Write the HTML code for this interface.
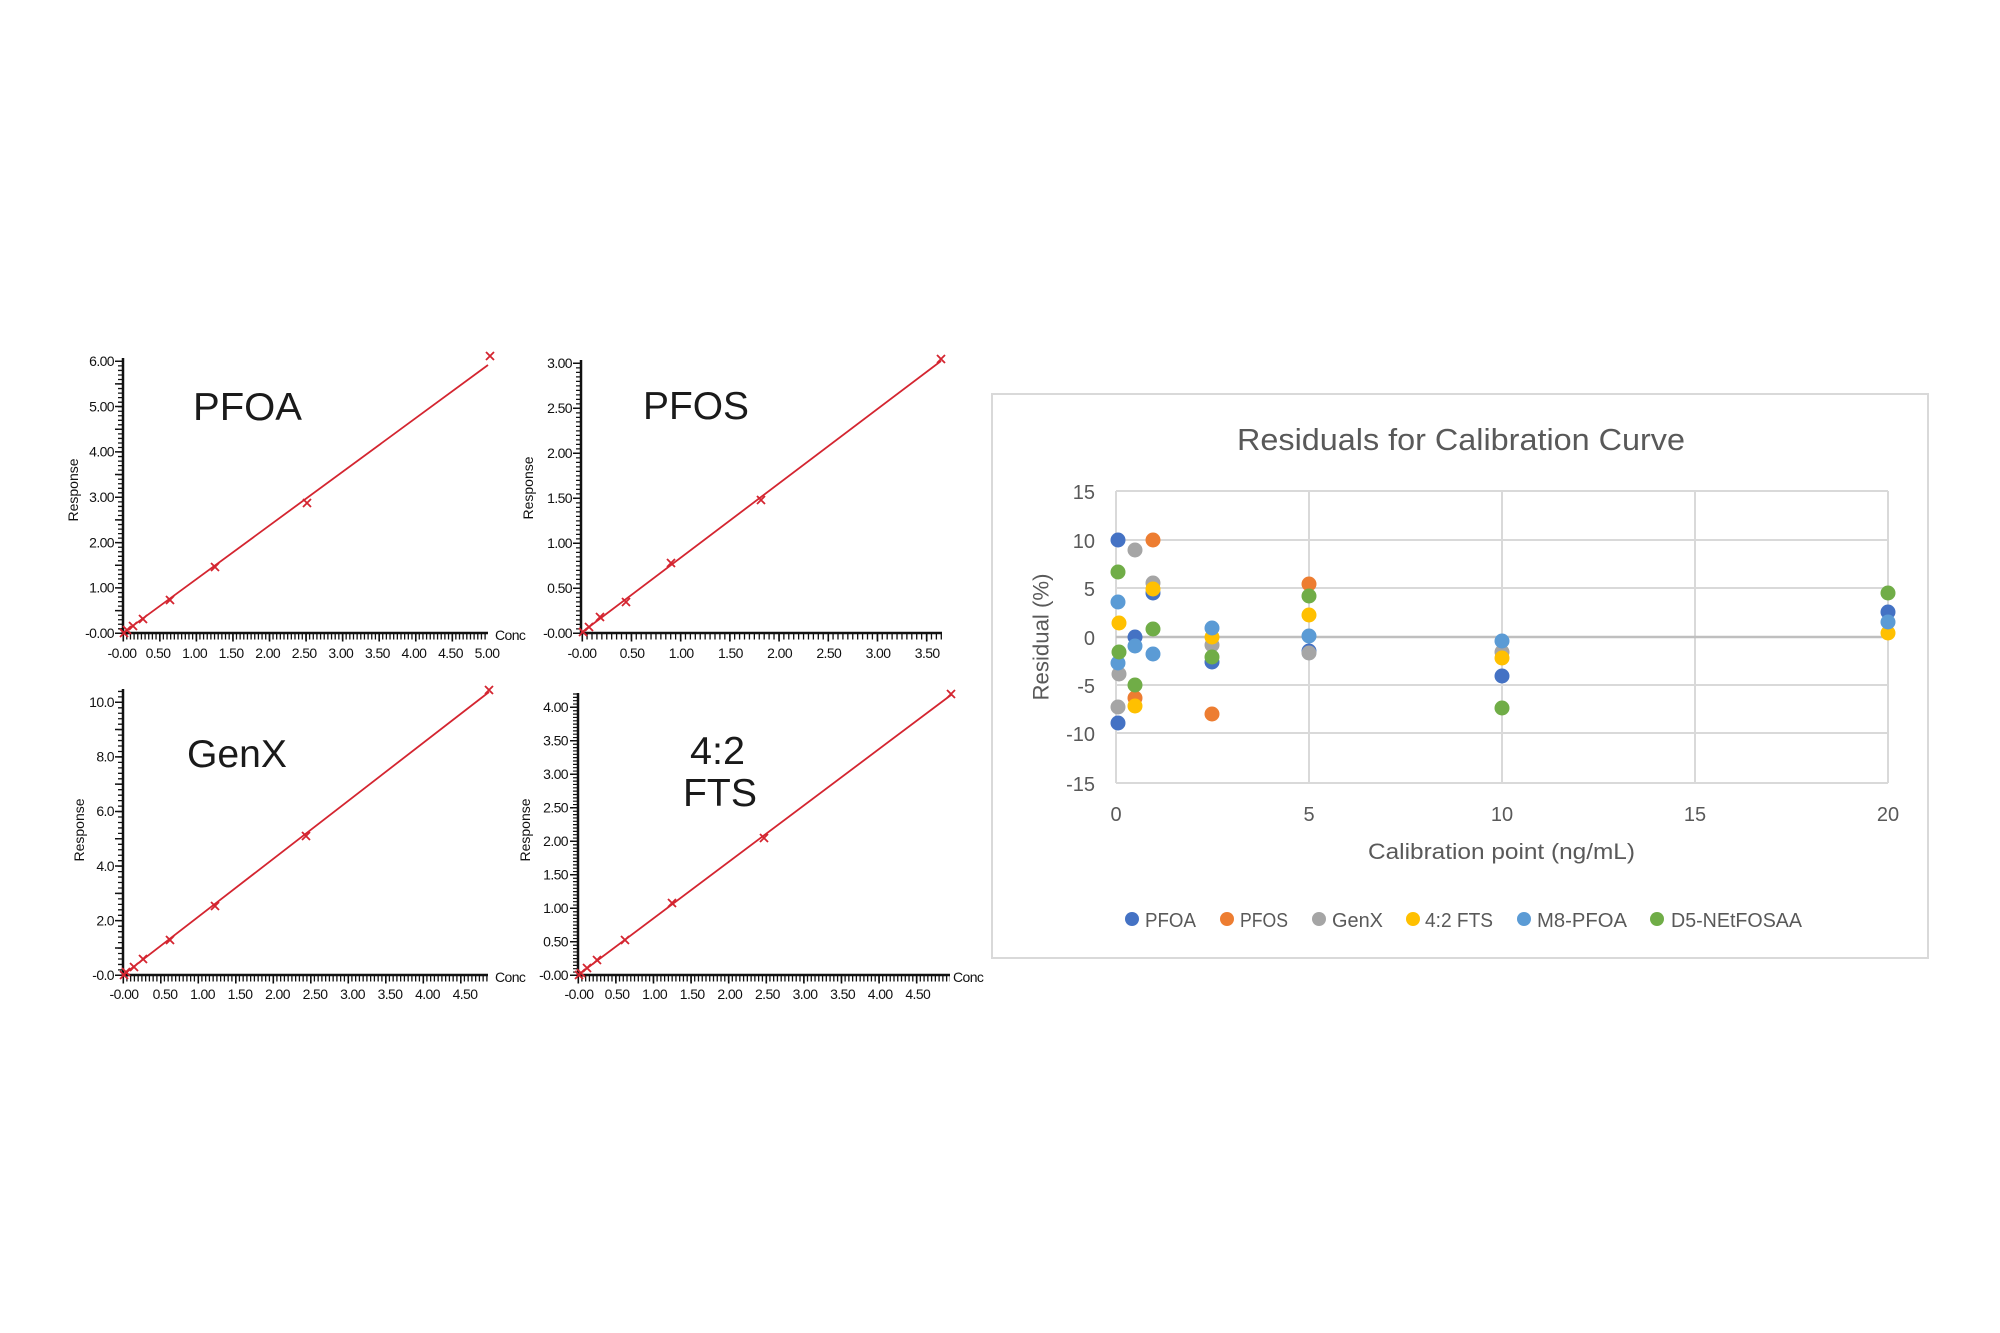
<!DOCTYPE html>
<html><head><meta charset="utf-8"><style>
html,body{margin:0;padding:0;background:#fff;}
svg{display:block;}
.tl{font-family:"Liberation Sans",Arial,sans-serif;font-size:14px;fill:#111;letter-spacing:-0.6px;}
.ax{font-family:"Liberation Sans",Arial,sans-serif;font-size:14px;fill:#111;}
.tt{font-family:"Liberation Sans",Arial,sans-serif;font-size:39px;fill:#1a1a1a;}
.rc{font-family:"Liberation Sans",Arial,sans-serif;fill:#595959;}
</style></head><body>
<svg width="2000" height="1333" viewBox="0 0 2000 1333" xmlns="http://www.w3.org/2000/svg">
<rect width="2000" height="1333" fill="#fff"/>

<!-- ========== PFOA ========== -->
<g stroke="#111" fill="none">
<line x1="123" y1="358" x2="123" y2="634" stroke-width="2.5"/>
<line x1="122" y1="633" x2="488" y2="633" stroke-width="2.5"/>
<line x1="120.5" y1="634" x2="120.5" y2="358" stroke-width="5" stroke-dasharray="1.3 3.233"/>
<line x1="119" y1="634" x2="119" y2="358" stroke-width="8" stroke-dasharray="1.5 21.17"/>
<line x1="122.5" y1="636.5" x2="488" y2="636.5" stroke-width="6" stroke-dasharray="1.3 2.356"/>
<line x1="122.5" y1="637.5" x2="488" y2="637.5" stroke-width="8" stroke-dasharray="1.6 34.96"/>
</g>
<g class="tl" text-anchor="end">
<text x="114" y="638">-0.00</text><text x="114" y="592.7">1.00</text><text x="114" y="547.3">2.00</text><text x="114" y="502">3.00</text><text x="114" y="456.7">4.00</text><text x="114" y="411.3">5.00</text><text x="114" y="366">6.00</text>
</g>
<g class="tl" text-anchor="middle">
<text x="122" y="658">-0.00</text><text x="158" y="658">0.50</text><text x="194.6" y="658">1.00</text><text x="231.1" y="658">1.50</text><text x="267.7" y="658">2.00</text><text x="304.2" y="658">2.50</text><text x="340.8" y="658">3.00</text><text x="377.4" y="658">3.50</text><text x="413.9" y="658">4.00</text><text x="450.5" y="658">4.50</text><text x="487" y="658">5.00</text>
</g>
<text class="tl" x="495" y="640">Conc</text>
<text class="ax" transform="translate(78,490) rotate(-90)" text-anchor="middle" textLength="63" lengthAdjust="spacingAndGlyphs">Response</text>
<text class="tt" x="193" y="420" textLength="109" lengthAdjust="spacingAndGlyphs">PFOA</text>
<g stroke="#d42530" stroke-width="1.8" fill="none">
<line x1="123" y1="633" x2="488" y2="365"/>
<path d="M120,629l8,8M128,629l-8,8 M123,626l8,8M131,626l-8,8 M129,622l8,8M137,622l-8,8 M139,615l8,8M147,615l-8,8 M166,596l8,8M174,596l-8,8 M211,563l8,8M219,563l-8,8 M303,499l8,8M311,499l-8,8 M486,352l8,8M494,352l-8,8"/>
</g>

<!-- ========== PFOS ========== -->
<g stroke="#111" fill="none">
<line x1="581" y1="360" x2="581" y2="634" stroke-width="2.5"/>
<line x1="580" y1="633" x2="942" y2="633" stroke-width="2.5"/>
<line x1="578.5" y1="634" x2="578.5" y2="360" stroke-width="5" stroke-dasharray="1.3 3.2"/>
<line x1="577" y1="634" x2="577" y2="360" stroke-width="8" stroke-dasharray="1.5 43.5"/>
<line x1="581.5" y1="636.5" x2="942" y2="636.5" stroke-width="6" stroke-dasharray="1.3 3.62"/>
<line x1="581.5" y1="637.5" x2="942" y2="637.5" stroke-width="8" stroke-dasharray="1.6 47.6"/>
</g>
<g class="tl" text-anchor="end">
<text x="572" y="638">-0.00</text><text x="572" y="593">0.50</text><text x="572" y="548">1.00</text><text x="572" y="503">1.50</text><text x="572" y="458">2.00</text><text x="572" y="413">2.50</text><text x="572" y="368">3.00</text>
</g>
<g class="tl" text-anchor="middle">
<text x="582" y="658">-0.00</text><text x="632" y="658">0.50</text><text x="681.2" y="658">1.00</text><text x="730.4" y="658">1.50</text><text x="779.6" y="658">2.00</text><text x="828.8" y="658">2.50</text><text x="878" y="658">3.00</text><text x="927.2" y="658">3.50</text>
</g>
<text class="ax" transform="translate(533,488) rotate(-90)" text-anchor="middle" textLength="63" lengthAdjust="spacingAndGlyphs">Response</text>
<text class="tt" x="643" y="419" textLength="106" lengthAdjust="spacingAndGlyphs">PFOS</text>
<g stroke="#d42530" stroke-width="1.8" fill="none">
<line x1="581" y1="633" x2="941" y2="361"/>
<path d="M579,628l8,8M587,628l-8,8 M585,623l8,8M593,623l-8,8 M596,613l8,8M604,613l-8,8 M622,598l8,8M630,598l-8,8 M667,559l8,8M675,559l-8,8 M757,496l8,8M765,496l-8,8 M937,355l8,8M945,355l-8,8"/>
</g>

<!-- ========== GenX ========== -->
<g stroke="#111" fill="none">
<line x1="123" y1="689" x2="123" y2="976" stroke-width="2.5"/>
<line x1="122" y1="975" x2="488" y2="975" stroke-width="2.5"/>
<line x1="120.5" y1="976" x2="120.5" y2="689" stroke-width="5" stroke-dasharray="1.3 4.16"/>
<line x1="119" y1="976" x2="119" y2="689" stroke-width="8" stroke-dasharray="1.5 25.8"/>
<line x1="122.5" y1="978.5" x2="488" y2="978.5" stroke-width="6" stroke-dasharray="1.3 2.45"/>
<line x1="122.5" y1="979.5" x2="488" y2="979.5" stroke-width="8" stroke-dasharray="1.6 35.9"/>
</g>
<g class="tl" text-anchor="end">
<text x="114" y="980">-0.0</text><text x="114" y="925.4">2.0</text><text x="114" y="870.8">4.0</text><text x="114" y="816.2">6.0</text><text x="114" y="761.6">8.0</text><text x="114" y="707">10.0</text>
</g>
<g class="tl" text-anchor="middle">
<text x="124" y="999">-0.00</text><text x="165" y="999">0.50</text><text x="202.5" y="999">1.00</text><text x="240" y="999">1.50</text><text x="277.5" y="999">2.00</text><text x="315" y="999">2.50</text><text x="352.5" y="999">3.00</text><text x="390" y="999">3.50</text><text x="427.5" y="999">4.00</text><text x="465" y="999">4.50</text>
</g>
<text class="tl" x="495" y="982">Conc</text>
<text class="ax" transform="translate(84,830) rotate(-90)" text-anchor="middle" textLength="63" lengthAdjust="spacingAndGlyphs">Response</text>
<text class="tt" x="187" y="767" textLength="100" lengthAdjust="spacingAndGlyphs">GenX</text>
<g stroke="#d42530" stroke-width="1.8" fill="none">
<line x1="123" y1="975" x2="489" y2="692"/>
<path d="M120,971l8,8M128,971l-8,8 M122,968l8,8M130,968l-8,8 M130,963l8,8M138,963l-8,8 M139,955l8,8M147,955l-8,8 M166,936l8,8M174,936l-8,8 M211,902l8,8M219,902l-8,8 M302,832l8,8M310,832l-8,8 M485,686l8,8M493,686l-8,8"/>
</g>

<!-- ========== 4:2 FTS ========== -->
<g stroke="#111" fill="none">
<line x1="578" y1="693" x2="578" y2="976" stroke-width="2.5"/>
<line x1="577" y1="975" x2="950" y2="975" stroke-width="2.5"/>
<line x1="575.5" y1="976" x2="575.5" y2="693" stroke-width="5" stroke-dasharray="1.2 2.15"/>
<line x1="574" y1="976" x2="574" y2="693" stroke-width="8" stroke-dasharray="1.5 32"/>
<line x1="577.5" y1="978.5" x2="950" y2="978.5" stroke-width="6" stroke-dasharray="1.3 2.46"/>
<line x1="577.5" y1="979.5" x2="950" y2="979.5" stroke-width="8" stroke-dasharray="1.6 36"/>
</g>
<g class="tl" text-anchor="end">
<text x="568" y="980">-0.00</text><text x="568" y="946.5">0.50</text><text x="568" y="913">1.00</text><text x="568" y="879.5">1.50</text><text x="568" y="846">2.00</text><text x="568" y="812.5">2.50</text><text x="568" y="779">3.00</text><text x="568" y="745.5">3.50</text><text x="568" y="712">4.00</text>
</g>
<g class="tl" text-anchor="middle">
<text x="579" y="999">-0.00</text><text x="617" y="999">0.50</text><text x="654.6" y="999">1.00</text><text x="692.2" y="999">1.50</text><text x="729.8" y="999">2.00</text><text x="767.4" y="999">2.50</text><text x="805" y="999">3.00</text><text x="842.6" y="999">3.50</text><text x="880.2" y="999">4.00</text><text x="917.8" y="999">4.50</text>
</g>
<text class="tl" x="953" y="982">Conc</text>
<text class="ax" transform="translate(530,830) rotate(-90)" text-anchor="middle" textLength="63" lengthAdjust="spacingAndGlyphs">Response</text>
<text class="tt" x="690" y="764" textLength="55" lengthAdjust="spacingAndGlyphs">4:2</text>
<text class="tt" x="683" y="806" textLength="74" lengthAdjust="spacingAndGlyphs">FTS</text>
<g stroke="#d42530" stroke-width="1.8" fill="none">
<line x1="578" y1="975" x2="951" y2="695"/>
<path d="M575,971l8,8M583,971l-8,8 M577,969l8,8M585,969l-8,8 M583,964l8,8M591,964l-8,8 M593,956l8,8M601,956l-8,8 M621,936l8,8M629,936l-8,8 M668,899l8,8M676,899l-8,8 M760,834l8,8M768,834l-8,8 M947,690l8,8M955,690l-8,8"/>
</g>

<!-- ========== Residuals chart ========== -->
<rect x="992" y="394" width="936" height="564" fill="#fff" stroke="#d9d9d9" stroke-width="2"/>
<text class="rc" x="1237" y="450" font-size="31" textLength="448" lengthAdjust="spacingAndGlyphs">Residuals for Calibration Curve</text>
<g stroke="#d9d9d9" stroke-width="2">
<line x1="1116" y1="491" x2="1888" y2="491"/>
<line x1="1116" y1="540" x2="1888" y2="540"/>
<line x1="1116" y1="588" x2="1888" y2="588"/>
<line x1="1116" y1="685" x2="1888" y2="685"/>
<line x1="1116" y1="733" x2="1888" y2="733"/>
<line x1="1116" y1="783" x2="1888" y2="783"/>
<line x1="1116" y1="491" x2="1116" y2="783"/>
<line x1="1309" y1="491" x2="1309" y2="783"/>
<line x1="1502" y1="491" x2="1502" y2="783"/>
<line x1="1695" y1="491" x2="1695" y2="783"/>
<line x1="1888" y1="491" x2="1888" y2="783"/>
</g>
<line x1="1116" y1="637" x2="1888" y2="637" stroke="#bfbfbf" stroke-width="2.5"/>
<g class="rc" font-size="20" text-anchor="end">
<text x="1095" y="499">15</text><text x="1095" y="548">10</text><text x="1095" y="596">5</text><text x="1095" y="645">0</text><text x="1095" y="693">-5</text><text x="1095" y="741">-10</text><text x="1095" y="791">-15</text>
</g>
<g class="rc" font-size="20" text-anchor="middle">
<text x="1116" y="821">0</text><text x="1309" y="821">5</text><text x="1502" y="821">10</text><text x="1695" y="821">15</text><text x="1888" y="821">20</text>
</g>
<text class="rc" x="1368" y="859" font-size="22" textLength="267" lengthAdjust="spacingAndGlyphs">Calibration point (ng/mL)</text>
<text class="rc" transform="translate(1041,637) rotate(-90)" text-anchor="middle" dy="0.35em" font-size="22" textLength="127" lengthAdjust="spacingAndGlyphs">Residual (%)</text>

<!-- PFOA -->
<g fill="#4472C4">
<circle cx="1118" cy="540" r="7.5"/><circle cx="1118" cy="723" r="7.5"/><circle cx="1135" cy="637" r="7.5"/><circle cx="1153" cy="593" r="7.5"/><circle cx="1212" cy="662" r="7.5"/><circle cx="1309" cy="651" r="7.5"/><circle cx="1502" cy="676" r="7.5"/><circle cx="1888" cy="612" r="7.5"/>
</g>
<!-- PFOS -->
<g fill="#ED7D31">
<circle cx="1135" cy="698" r="7.5"/><circle cx="1153" cy="540" r="7.5"/><circle cx="1212" cy="714" r="7.5"/><circle cx="1309" cy="584" r="7.5"/>
</g>
<!-- GenX -->
<g fill="#A5A5A5">
<circle cx="1119" cy="674" r="7.5"/><circle cx="1118" cy="707" r="7.5"/><circle cx="1135" cy="550" r="7.5"/><circle cx="1153" cy="583" r="7.5"/><circle cx="1212" cy="645" r="7.5"/><circle cx="1309" cy="653" r="7.5"/><circle cx="1502" cy="652" r="7.5"/>
</g>
<!-- 4:2 FTS -->
<g fill="#FFC000">
<circle cx="1119" cy="623" r="7.5"/><circle cx="1135" cy="706" r="7.5"/><circle cx="1153" cy="589" r="7.5"/><circle cx="1212" cy="637" r="7.5"/><circle cx="1309" cy="615" r="7.5"/><circle cx="1502" cy="658" r="7.5"/><circle cx="1888" cy="633" r="7.5"/>
</g>
<!-- M8-PFOA -->
<g fill="#5B9BD5">
<circle cx="1118" cy="602" r="7.5"/><circle cx="1118" cy="663" r="7.5"/><circle cx="1135" cy="646" r="7.5"/><circle cx="1153" cy="654" r="7.5"/><circle cx="1212" cy="628" r="7.5"/><circle cx="1309" cy="636" r="7.5"/><circle cx="1502" cy="641" r="7.5"/><circle cx="1888" cy="622" r="7.5"/>
</g>
<!-- D5-NEtFOSAA -->
<g fill="#70AD47">
<circle cx="1118" cy="572" r="7.5"/><circle cx="1119" cy="652" r="7.5"/><circle cx="1135" cy="685" r="7.5"/><circle cx="1153" cy="629" r="7.5"/><circle cx="1212" cy="657" r="7.5"/><circle cx="1309" cy="596" r="7.5"/><circle cx="1502" cy="708" r="7.5"/><circle cx="1888" cy="593" r="7.5"/>
</g>

<!-- legend -->
<circle cx="1132" cy="919" r="7" fill="#4472C4"/>
<circle cx="1227" cy="919" r="7" fill="#ED7D31"/>
<circle cx="1319" cy="919" r="7" fill="#A5A5A5"/>
<circle cx="1413" cy="919" r="7" fill="#FFC000"/>
<circle cx="1524" cy="919" r="7" fill="#5B9BD5"/>
<circle cx="1657" cy="919" r="7" fill="#70AD47"/>
<g class="rc" font-size="20">
<text x="1145" y="927" textLength="51" lengthAdjust="spacingAndGlyphs">PFOA</text>
<text x="1240" y="927" textLength="48" lengthAdjust="spacingAndGlyphs">PFOS</text>
<text x="1332" y="927" textLength="51" lengthAdjust="spacingAndGlyphs">GenX</text>
<text x="1425" y="927" textLength="68" lengthAdjust="spacingAndGlyphs">4:2 FTS</text>
<text x="1537" y="927" textLength="90" lengthAdjust="spacingAndGlyphs">M8-PFOA</text>
<text x="1671" y="927" textLength="131" lengthAdjust="spacingAndGlyphs">D5-NEtFOSAA</text>
</g>
</svg>
</body></html>
